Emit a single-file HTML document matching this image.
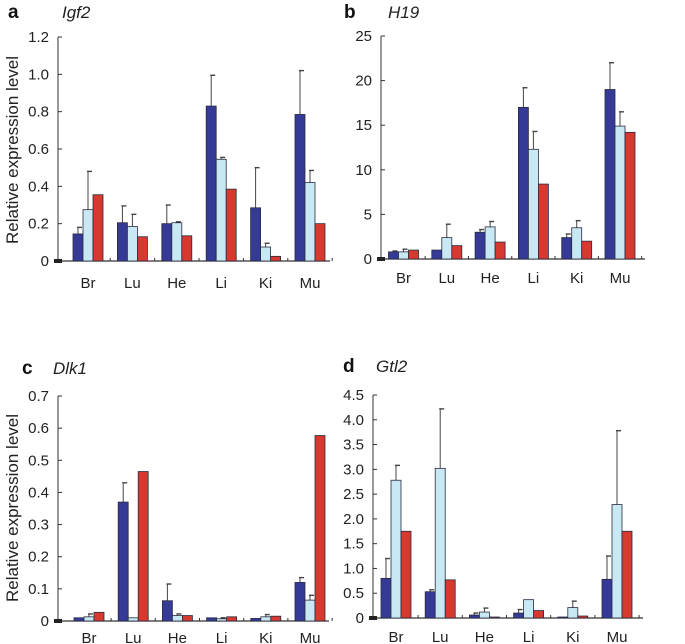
<!DOCTYPE html>
<html><head><meta charset="utf-8">
<style>
html,body{margin:0;padding:0;background:#fff;}
svg{display:block;font-family:"Liberation Sans",Arial,sans-serif;}
</style></head>
<body>
<svg id="fig" width="685" height="644" viewBox="0 0 685 644"></svg>
<script>
const categories = ["Br","Lu","He","Li","Ki","Mu"];
// Panel a: Igf2
const aBlue = [0.145,0.205,0.2,0.83,0.285,0.785];
const aBlueErr = [0.18,0.295,0.3,0.995,0.5,1.02];
const aLight = [0.275,0.185,0.205,0.545,0.075,0.42];
const aLightErr = [0.48,0.25,0.21,0.555,0.095,0.485];
const aRed = [0.355,0.13,0.135,0.385,0.025,0.2];
const aTicks = ["0","0.2","0.4","0.6","0.8","1.0","1.2"];
// Panel b: H19
const bBlue = [0.8,1.0,3.0,17,2.4,19];
const bBlueErr = [0.9,null,3.3,19.2,2.8,22];
const bLight = [0.8,2.4,3.6,12.3,3.5,14.9];
const bLightErr = [1.1,3.9,4.2,14.3,4.3,16.5];
const bRed = [1.0,1.5,1.9,8.4,2.0,14.2];
const bTicks = ["0","5","10","15","20","25"];
// Panel c: Dlk1
const cBlue = [0.01,0.37,0.063,0.01,0.008,0.12];
const cBlueErr = [null,0.43,0.115,null,null,0.135];
const cLight = [0.013,0.01,0.017,0.007,0.013,0.065];
const cLightErr = [0.022,null,0.022,0.01,0.02,0.08];
const cRed = [0.027,0.465,0.017,0.013,0.015,0.577];
const cTicks = ["0","0.1","0.2","0.3","0.4","0.5","0.6","0.7"];
// Panel d: Gtl2
const dBlue = [0.8,0.53,0.06,0.1,0.02,0.78];
const dBlueErr = [1.2,0.57,0.1,0.17,null,1.25];
const dLight = [2.78,3.02,0.12,0.37,0.21,2.29];
const dLightErr = [3.08,4.22,0.2,null,0.34,3.78];
const dRed = [1.75,0.77,0.02,0.15,0.04,1.75];
const dTicks = ["0","0.5","1.0","1.5","2.0","2.5","3.0","3.5","4.0","4.5"];

const NS="http://www.w3.org/2000/svg";
const svg=document.getElementById('fig');
function mk(tag,attrs,parent){const e=document.createElementNS(NS,tag);for(const k in attrs)e.setAttribute(k,attrs[k]);(parent||svg).appendChild(e);return e;}

const panels=[
 {id:'a',letter:'a',gene:'Igf2',lx:8,gx:62,ty:18,ax:58,x0:88,sp:44.4,xEnd:330,y0:261,yTop:37,max:1.2,ticks:aTicks,blue:aBlue,be:aBlueErr,light:aLight,le:aLightErr,red:aRed,labY:288,ylab:true,ylabY:150},
 {id:'b',letter:'b',gene:'H19',lx:344,gx:388,ty:18,ax:381,x0:403.5,sp:43.3,xEnd:645,y0:259,yTop:36,max:25,ticks:bTicks,blue:bBlue,be:bBlueErr,light:bLight,le:bLightErr,red:bRed,labY:283,ylab:false},
 {id:'c',letter:'c',gene:'Dlk1',lx:22,gx:53,ty:374,ax:58,x0:89,sp:44.2,xEnd:329,y0:621,yTop:396,max:0.7,ticks:cTicks,blue:cBlue,be:cBlueErr,light:cLight,le:cLightErr,red:cRed,labY:643,ylab:true,ylabY:508},
 {id:'d',letter:'d',gene:'Gtl2',lx:343,gx:376,ty:372,ax:373,x0:396,sp:44.2,xEnd:643,y0:618,yTop:395,max:4.5,ticks:dTicks,blue:dBlue,be:dBlueErr,light:dLight,le:dLightErr,red:dRed,labY:642,ylab:false}
];

panels.forEach(p=>{
  const g=mk('g',{});
  
  
  const yS=v=>p.y0-(v/p.max)*(p.y0-p.yTop);
  const t1=mk('text',{x:p.lx,y:p.ty,'font-size':19,'font-weight':'bold',fill:'#111'},g);t1.textContent=p.letter;
  
  
  const t2=mk('text',{x:p.gx,y:p.ty,'font-size':17,'font-style':'italic',fill:'#222'},g);t2.textContent=p.gene;
  
  
  if(p.ylab){
    const yl=mk('text',{x:0,y:0,'font-size':17,fill:'#222','text-anchor':'middle',transform:`translate(18,${p.ylabY}) rotate(-90)`},g);
    yl.textContent='Relative expression level';
    
    
  }
  const ya=mk('line',{x1:p.ax,y1:p.yTop,x2:p.ax,y2:p.y0,stroke:'#333','stroke-width':1},g);
  
  
  const xa=mk('line',{x1:p.ax,y1:p.y0,x2:p.xEnd,y2:p.y0,stroke:'#333','stroke-width':1.2},g);
  
  
  const sq=mk('rect',{x:p.ax-4,y:p.y0-2,width:8,height:4,fill:'#222'},g);
  
  
  const step=p.max/(p.ticks.length-1);
  p.ticks.forEach((t,i)=>{
    const y=yS(i*step);
    if(i>0){mk('line',{x1:p.ax,y1:y,x2:p.ax+4,y2:y,stroke:'#333'},g);}
    const tx=mk('text',{x:p.ax-9,y:y+5,'font-size':15,fill:'#222','text-anchor':'end'},g);tx.textContent=t;
    
    
  });
  const bw=10;
  categories.forEach((c,i)=>{
    const cx=p.x0+i*p.sp;
    const bx=cx+p.sp/2;mk('line',{x1:bx,y1:p.y0,x2:bx,y2:p.y0-3,stroke:'#333'},g);
    const series=[[p.blue,p.be,'#353a96','blue'],[p.light,p.le,'#c8e9f4','light'],[p.red,null,'#d8392e','red']];
    series.forEach((s,j)=>{
      const v=s[0][i];const x=cx-15+j*bw;const y=yS(v);
      if(s[1]&&s[1][i]!=null){
        const ey=yS(s[1][i]);const mx=x+bw/2;
        mk('line',{x1:mx,y1:y,x2:mx,y2:ey,stroke:'#444','stroke-width':1},g);
        mk('line',{x1:mx-1,y1:ey,x2:mx+4,y2:ey,stroke:'#444','stroke-width':1.4},g);
      }
      const r=mk('rect',{x:x,y:y,width:bw,height:Math.max(p.y0-y,0.5),fill:s[2],stroke:'#2a2a40','stroke-width':0.8},g);
      
      
    });
    const lb=mk('text',{x:cx,y:p.labY,'font-size':15,fill:'#222','text-anchor':'middle'},g);lb.textContent=c;
    
    
  });
});
</script>
</body></html>
